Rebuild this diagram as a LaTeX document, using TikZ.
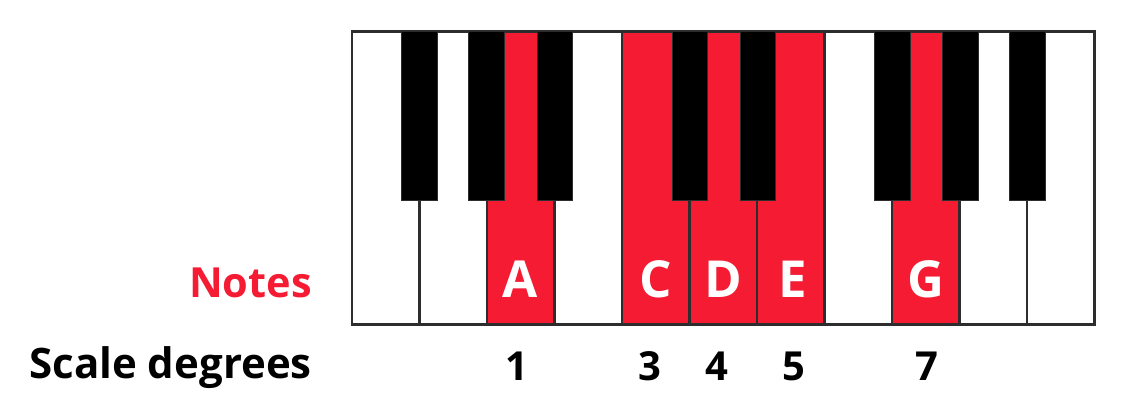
\documentclass[tikz,border=0pt]{standalone}
\usepackage{fontspec}
\setmainfont{Open Sans}
\definecolor{notered}{RGB}{244,27,51}
\definecolor{keyline}{RGB}{45,45,45}
\begin{document}
\begin{tikzpicture}[x=1pt,y=-1pt,
  whitekey/.style={fill=white,draw=keyline,line width=2.2pt},
  redkey/.style={fill=notered,draw=keyline,line width=2.2pt},
  blackkey/.style={fill=black,draw=keyline,line width=0.6pt},
  keylabel/.style={anchor=base,inner sep=0pt,text=white,font=\fontsize{51}{60}\selectfont\bfseries},
  degree/.style={anchor=base,inner sep=0pt,text=black,font=\fontsize{40}{48}\selectfont\bfseries},
  rowlabel/.style={anchor=base east,inner sep=0pt,font=\fontsize{41.5}{50}\selectfont\bfseries}]
\useasboundingbox (0,0) rectangle (1124,414);
% white keys
\foreach \i/\s in {0/whitekey,1/whitekey,2/redkey,3/whitekey,4/redkey,5/redkey,6/redkey,7/whitekey,8/redkey,9/whitekey,10/whitekey}{
  \draw[\s] ({352+67.5*\i},31.5) rectangle ({352+67.5*(\i+1)},324.5);
}
% black keys
\foreach \x in {401.7,468.5,537,672,740,874.5,942.5,1009.5}{
  \draw[blackkey] (\x,31.5) rectangle ({\x+35.3},200);
}
% labels
\node[rowlabel,text=notered] (notes) at (312,297) {Notes};
\node[rowlabel,text=black,font=\fontsize{42}{50}\selectfont\bfseries] (degrees) at (312,378) {Scale degrees};
\node[keylabel] (nA) at (520.5,297.5) {A};
\node[keylabel] (nC) at (656,297.5) {C};
\node[keylabel] (nD) at (723,297.5) {D};
\node[keylabel] (nE) at (792.5,297.5) {E};
\node[keylabel] (nG) at (926,297.5) {G};
\node[degree] (d1) at (517,380) {1};
\node[degree] (d3) at (650,380) {3};
\node[degree] (d4) at (716.5,380) {4};
\node[degree] (d5) at (794,380) {5};
\node[degree] (d7) at (927,380) {7};
\end{tikzpicture}
\end{document}
